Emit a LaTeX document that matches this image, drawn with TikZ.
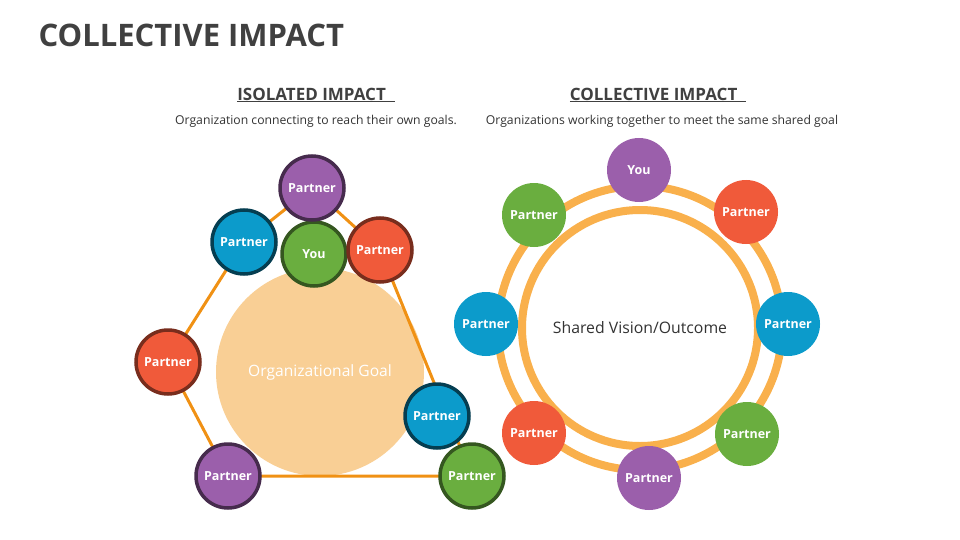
\documentclass[tikz,border=0pt]{standalone}
\usepackage{fontspec}
\setmainfont{Open Sans}
\begin{document}
\begin{tikzpicture}[x=1pt,y=-1pt,
 pc/.style={circle,minimum size=64pt,inner sep=0pt,text=white,font=\fontsize{12.5}{14}\selectfont\bfseries},
 lc/.style={pc,line width=3.5pt},
 edge/.style={draw={rgb,255:red,240;green,145;blue,20},line width=3pt}]
\useasboundingbox (0,0) rectangle (960,540);
\definecolor{pu}{HTML}{9B5FAB}\definecolor{rd}{HTML}{F05A3A}
\definecolor{bl}{HTML}{0C9BCB}\definecolor{gr}{HTML}{6AAE3F}
\definecolor{ring}{HTML}{F9B04C}\definecolor{goal}{HTML}{F9CF95}
\node[anchor=west,font=\fontsize{31}{36}\selectfont\bfseries,text=black!75] (title) at (35,35) {COLLECTIVE IMPACT};
\node[font=\fontsize{17}{20}\selectfont\bfseries,text=black!75] (h1) at (316,95) {\underline{ISOLATED IMPACT\ \ }};
\node[font=\fontsize{12.2}{15}\selectfont,text=black!80] (s1) at (316,121) {Organization connecting to reach their own goals.};
\node[font=\fontsize{17}{20}\selectfont\bfseries,text=black!75] (h2) at (658,95) {\underline{COLLECTIVE IMPACT\ \ }};
\node[font=\fontsize{12.2}{15}\selectfont,text=black!80] (s2) at (662,121) {Organizations working together to meet the same shared goal};
% left
\node[circle,fill=goal,minimum size=208pt,text=white,font=\fontsize{15.6}{18}\selectfont] (goal) at (320,372) {Organizational Goal};
\coordinate (p1) at (312,188);\coordinate (p2) at (380,250);\coordinate (p3) at (472,476);
\coordinate (p4) at (228,476);\coordinate (p5) at (168,362);\coordinate (p6) at (244,242);
\draw[edge] (p1)--(p2)--(p3)--(p4)--(p5)--(p6)--cycle;
\node[lc,fill=gr,draw=gr!50!black] (a3) at (314,254) {You};
\node[lc,fill=pu,draw=pu!45!black] (a1) at (p1) {Partner};
\node[lc,fill=bl,draw=bl!40!black] (a2) at (p6) {Partner};
\node[lc,fill=rd,draw=rd!50!black] (a4) at (p2) {Partner};
\node[lc,fill=rd,draw=rd!50!black] (a5) at (p5) {Partner};
\node[lc,fill=pu,draw=pu!45!black] (a6) at (p4) {Partner};
\node[lc,fill=bl,draw=bl!40!black] (a7) at (437,416) {Partner};
\node[lc,fill=gr,draw=gr!50!black] (a8) at (p3) {Partner};
% right
\node[circle,draw=ring,line width=8pt,minimum size=284pt] (outer) at (640,328) {};
\node[circle,draw=ring,line width=8pt,fill=white,minimum size=236pt,font=\fontsize{15.8}{18}\selectfont,text=black!80] (inner) at (640,328) {Shared Vision/Outcome};
\node[pc,fill=pu] (b1) at (639,170) {You};
\node[pc,fill=rd] (b2) at (746,212) {Partner};
\node[pc,fill=bl] (b3) at (788,324) {Partner};
\node[pc,fill=gr] (b4) at (747,434) {Partner};
\node[pc,fill=pu] (b5) at (649,478) {Partner};
\node[pc,fill=rd] (b6) at (534,433) {Partner};
\node[pc,fill=bl] (b7) at (486,324) {Partner};
\node[pc,fill=gr] (b8) at (534,215) {Partner};
\end{tikzpicture}
\end{document}
